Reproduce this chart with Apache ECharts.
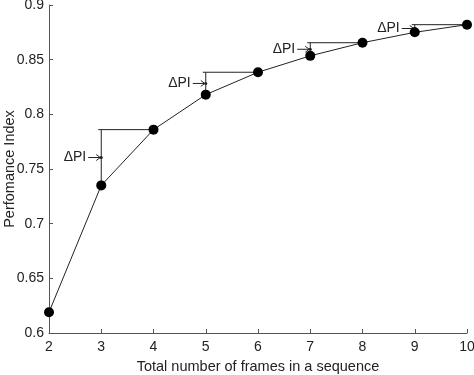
<!DOCTYPE html>
<html><head><meta charset="utf-8">
<script src="https://cdn.jsdelivr.net/npm/echarts@6/dist/echarts.min.js"></script>
<style>html,body{margin:0;padding:0;background:#fff}#c{width:474px;height:375px}</style>
</head><body><div id="c"></div>
<script>
var frames = [2, 3, 4, 5, 6, 7, 8, 9, 10];
var perfIndex = [0.619, 0.735, 0.786, 0.818, 0.8385, 0.8535, 0.8655, 0.875, 0.882];
var deltaStartFrames = [3, 5, 7, 9];
var deltaLabel = 'ΔPI';

var annData = deltaStartFrames.map(function (f) {
  var i = frames.indexOf(f);
  return [frames[i], perfIndex[i], frames[i + 1], perfIndex[i + 1]];
});

var chart = echarts.init(document.getElementById('c'), null, {renderer: 'canvas'});
var font = 'Liberation Sans, Arial, sans-serif';
chart.setOption({
  animation: false,
  grid: {left: 49, right: 7, top: 5, bottom: 42, containLabel: false, outerBoundsMode: 'none'},
  xAxis: {
    type: 'value', min: 2, max: 10, interval: 1,
    name: 'Total number of frames in a sequence', nameLocation: 'middle', nameGap: 26,
    nameMoveOverlap: false,
    nameTextStyle: {fontFamily: font, fontSize: 14.5, color: '#222'},
    axisLine: {lineStyle: {color: '#555', width: 1}},
    axisTick: {inside: true, length: 4, lineStyle: {color: '#555'}},
    axisLabel: {fontFamily: font, fontSize: 14, color: '#222', margin: 7},
    splitLine: {show: false}
  },
  yAxis: {
    type: 'value', min: 0.6, max: 0.9, interval: 0.05,
    name: 'Perfomance Index', nameLocation: 'middle', nameGap: 32,
    nameMoveOverlap: false,
    nameTextStyle: {fontFamily: font, fontSize: 14.5, color: '#222'},
    axisLine: {show: true, lineStyle: {color: '#555', width: 1}},
    axisTick: {show: true, inside: true, length: 4, lineStyle: {color: '#555'}},
    axisLabel: {fontFamily: font, fontSize: 14, color: '#222', margin: 5},
    splitLine: {show: false}
  },
  series: [
    {
      type: 'custom', z: 1,
      data: annData,
      renderItem: function (params, api) {
        var x0 = api.value(0), y0 = api.value(1), x1 = api.value(2), y1 = api.value(3);
        var p0 = api.coord([x0, y0]);
        var pc = api.coord([x0, y1]);
        var p1 = api.coord([x1, y1]);
        var ym = (p0[1] + pc[1]) / 2;
        var ax = pc[0];
        var st = {stroke: '#222', lineWidth: 1};
        return {
          type: 'group',
          children: [
            {type: 'line', shape: {x1: p0[0], y1: p0[1], x2: pc[0], y2: pc[1]}, style: st},
            {type: 'line', shape: {x1: pc[0] - 3, y1: pc[1], x2: p1[0], y2: p1[1]}, style: st},
            {type: 'line', shape: {x1: ax - 13, y1: ym, x2: ax - 1, y2: ym}, style: st},
            {type: 'polyline', shape: {points: [[ax - 5, ym - 3], [ax - 1, ym], [ax - 5, ym + 3]]}, style: {stroke: '#222', lineWidth: 1, fill: null}},
            {type: 'circle', shape: {cx: ax, cy: ym, r: 1.5}, style: {fill: '#222'}},
            {type: 'text', style: {x: ax - 15, y: ym, text: deltaLabel, fill: '#222', font: '14px ' + font, textAlign: 'right', textVerticalAlign: 'middle'}}
          ]
        };
      }
    },
    {
      type: 'line', z: 3,
      data: frames.map(function (f, i) { return [f, perfIndex[i]]; }),
      symbol: 'circle', symbolSize: 10,
      itemStyle: {color: '#000'},
      lineStyle: {color: '#222', width: 1}
    }
  ]
});
</script></body></html>
